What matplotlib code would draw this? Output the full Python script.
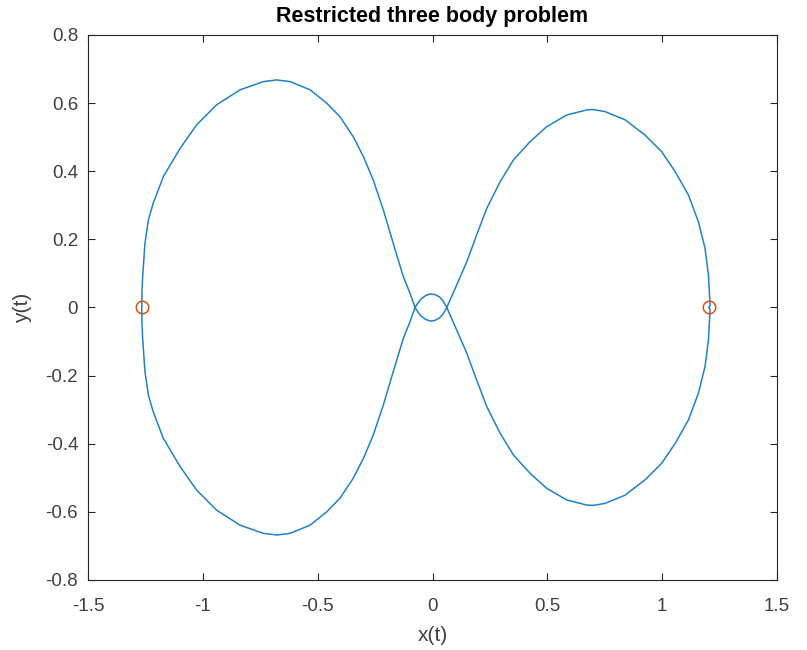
import matplotlib
matplotlib.use('Agg')
import matplotlib.pyplot as plt

plt.rcParams['font.family'] = ['Liberation Sans', 'DejaVu Sans']

# orbit, in the order it is travelled
# lower right lobe, from (1.2, 0) down and back to the centre
x_lower_right = [1.204, 1.208, 1.201, 1.186, 1.157, 1.114, 1.056, 0.998, 0.925, 0.838, 0.751,
                 0.700, 0.671, 0.584, 0.497, 0.425, 0.352, 0.294, 0.236, 0.192, 0.149, 0.105, 0.062]
y_lower_right = [0.0, -0.007, -0.095, -0.174, -0.252, -0.330, -0.399, -0.457, -0.506, -0.551, -0.575,
                 -0.581, -0.580, -0.565, -0.531, -0.487, -0.433, -0.369, -0.291, -0.213, -0.134, -0.066, 0.0]
# top arc of the small centre loop
x_loop_top = [0.045, 0.030, 0.010, -0.010, -0.030, -0.050, -0.065, -0.076]
y_loop_top = [0.020, 0.031, 0.038, 0.040, 0.035, 0.025, 0.012, 0.0]
# lower left lobe
x_lower_left = [-0.100, -0.127, -0.171, -0.214, -0.258, -0.301, -0.345, -0.403, -0.461, -0.533,
                -0.620, -0.678, -0.737, -0.838, -0.940, -1.027, -1.099, -1.172, -1.216, -1.237,
                -1.252, -1.262, -1.265, -1.266]
y_lower_left = [-0.045, -0.090, -0.188, -0.286, -0.374, -0.443, -0.501, -0.560, -0.600, -0.639,
                -0.663, -0.668, -0.663, -0.639, -0.595, -0.536, -0.467, -0.384, -0.306, -0.257,
                -0.188, -0.090, -0.045, 0.0]
# upper left lobe
x_upper_left = [-1.265, -1.262, -1.252, -1.237, -1.216, -1.172, -1.099, -1.027, -0.940, -0.838,
                -0.737, -0.678, -0.620, -0.533, -0.461, -0.403, -0.345, -0.301, -0.258, -0.214,
                -0.171, -0.127, -0.100, -0.076]
y_upper_left = [0.045, 0.090, 0.188, 0.257, 0.306, 0.384, 0.467, 0.536, 0.595, 0.639,
                0.663, 0.668, 0.663, 0.639, 0.600, 0.560, 0.501, 0.443, 0.374, 0.286,
                0.188, 0.090, 0.045, 0.0]
# bottom arc of the small centre loop
x_loop_bottom = [-0.065, -0.050, -0.030, -0.010, 0.010, 0.030, 0.045, 0.062]
y_loop_bottom = [-0.012, -0.025, -0.035, -0.040, -0.038, -0.031, -0.020, 0.0]
# upper right lobe, back to (1.2, 0)
x_upper_right = [0.105, 0.149, 0.192, 0.236, 0.294, 0.352, 0.425, 0.497, 0.584, 0.671, 0.700,
                 0.751, 0.838, 0.925, 0.998, 1.056, 1.114, 1.157, 1.186, 1.201, 1.208, 1.204]
y_upper_right = [0.066, 0.134, 0.213, 0.291, 0.369, 0.433, 0.487, 0.531, 0.565, 0.580, 0.581,
                 0.575, 0.551, 0.506, 0.457, 0.399, 0.330, 0.252, 0.174, 0.095, 0.007, 0.0]

# start and end point markers
x_marks = [-1.266, 1.204]
y_marks = [0.0, 0.0]

x_ticks = [-1.5, -1, -0.5, 0, 0.5, 1, 1.5]
x_tick_labels = ['-1.5', '-1', '-0.5', '0', '0.5', '1', '1.5']
y_ticks = [-0.8, -0.6, -0.4, -0.2, 0, 0.2, 0.4, 0.6, 0.8]
y_tick_labels = ['-0.8', '-0.6', '-0.4', '-0.2', '0', '0.2', '0.4', '0.6', '0.8']

xs = x_lower_right + x_loop_top + x_lower_left + x_upper_left + x_loop_bottom + x_upper_right
ys = y_lower_right + y_loop_top + y_lower_left + y_upper_left + y_loop_bottom + y_upper_right

fig = plt.figure(figsize=(8.07, 6.5), dpi=100)
ax = fig.add_axes([0.109, 0.1077, 0.854, 0.8385])

ax.plot(xs, ys, color='#1f82c9', linewidth=1.1, solid_joinstyle='round')
ax.plot(x_marks, y_marks, 'o', color='#D95319', markerfacecolor='none',
        markersize=9, markeredgewidth=1.1)

ax.set_xlim(-1.5, 1.5)
ax.set_ylim(-0.8, 0.8)
ax.set_xticks(x_ticks)
ax.set_xticklabels(x_tick_labels)
ax.set_yticks(y_ticks)
ax.set_yticklabels(y_tick_labels)

dark = '#262626'
for s in ax.spines.values():
    s.set_color(dark)
    s.set_linewidth(0.8)
ax.tick_params(direction='in', length=5, width=0.8, colors=dark, labelsize=13.5,
               labelcolor='#404040', top=True, right=True)
ax.tick_params(axis='x', pad=13)
ax.tick_params(axis='y', pad=7)

ax.set_xlabel('x(t)', fontsize=15, color='#404040', labelpad=8)
ax.set_ylabel('y(t)', fontsize=15, color='#404040', labelpad=10)
ax.set_title('Restricted three body problem', fontsize=15.5, fontweight='bold', color='black', pad=9)

fig.savefig('out.png', dpi=100)
